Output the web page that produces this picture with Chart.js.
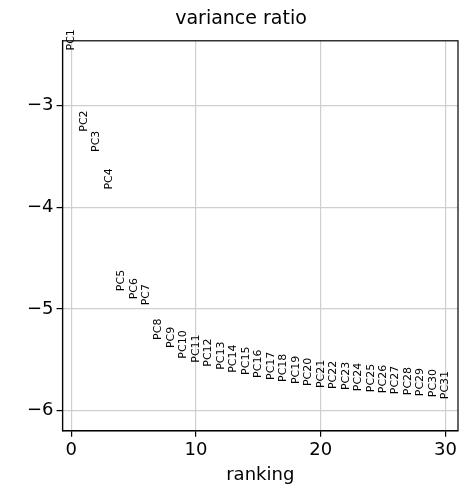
<!DOCTYPE html>
<html><head><script src="https://cdn.jsdelivr.net/npm/chart.js@4"></script>
<style>body{margin:0;background:#fff}#w{width:474px;height:504px}</style></head>
<body><div id="w"><canvas id="c"></canvas></div>
<script>
const labels = Array.from({length:31},(_,i)=>'PC'+(i+1));
const ranking = [0,1,2,3,4,5,6,7,8,9,10,11,12,13,14,15,16,17,18,19,20,21,22,23,24,25,26,27,28,29,30];
const values = [-2.35,-3.15,-3.35,-3.72,-4.72,-4.8,-4.86,-5.2,-5.28,-5.35,-5.39,-5.43,-5.46,-5.49,-5.51,-5.54,-5.56,-5.58,-5.6,-5.62,-5.64,-5.65,-5.66,-5.67,-5.68,-5.69,-5.7,-5.71,-5.72,-5.73,-5.75];
const yTicks = [-3,-4,-5,-6];
const xTicks = [0,10,20,30];
const F = "'DejaVu Sans'";
const textPlugin = {id:'t', afterDatasetsDraw(ch){
  const c=ch.ctx, xs=ch.scales.x, ys=ch.scales.y, a=ch.chartArea;
  c.save(); c.font="11px "+F; c.fillStyle='#000'; c.textAlign='center'; c.textBaseline='middle';
  ranking.forEach((r,i)=>{c.save(); c.translate(xs.getPixelForValue(r), ys.getPixelForValue(values[i])); c.rotate(-Math.PI/2); c.fillText(labels[i],0,0); c.restore();});
  c.strokeStyle='#000'; c.lineWidth=1.2; c.strokeRect(a.left,a.top,a.right-a.left,a.bottom-a.top);
  c.restore();
}};
new Chart(document.getElementById('c'),{type:'scatter',
 data:{datasets:[{data:ranking.map((r,i)=>({x:r,y:values[i]})),pointRadius:0}]},
 options:{responsive:true,maintainAspectRatio:false,animation:false,
  layout:{padding:{right:16,bottom:14,left:24,top:0}},
  plugins:{legend:{display:false},tooltip:{enabled:false},
   title:{display:true,text:'variance ratio',color:'#000',font:{family:F,size:19,weight:'normal'},padding:{top:8,bottom:10}}},
  scales:{
   x:{type:'linear',min:-0.7,max:31,afterBuildTicks:a=>{a.ticks=xTicks.map(v=>({value:v}))},
    grid:{color:'#cfcfcf',lineWidth:1.2,tickLength:6,tickColor:'#000'},border:{color:'#000',width:1.2},
    ticks:{color:'#000',font:{family:F,size:18},maxRotation:0},
    title:{display:true,text:'ranking',color:'#000',font:{family:F,size:18},padding:{top:0}}},
   y:{type:'linear',min:-6.2,max:-2.36,afterBuildTicks:a=>{a.ticks=yTicks.map(v=>({value:v}))},
    grid:{color:'#cfcfcf',lineWidth:1.2,tickLength:6,tickColor:'#000'},border:{color:'#000',width:1.2},
    ticks:{color:'#000',font:{family:F,size:18},callback:v=>'\u2212'+Math.abs(v)}}
  }},plugins:[textPlugin]});
</script></body></html>
